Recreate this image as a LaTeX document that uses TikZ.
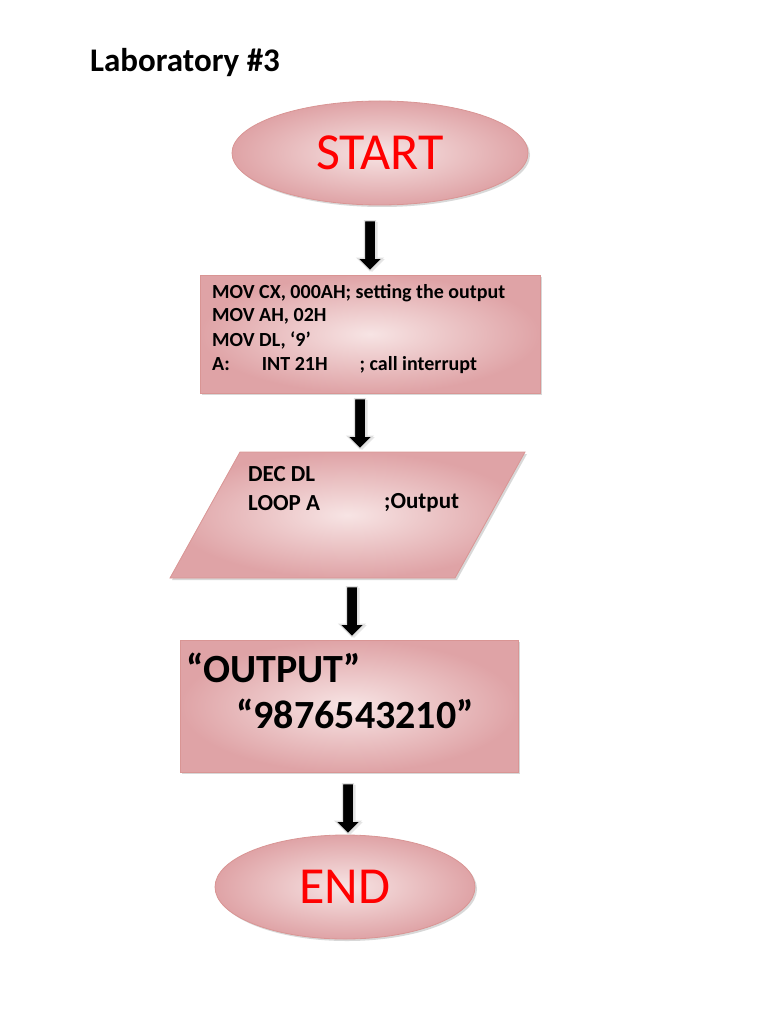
\documentclass[tikz,border=0pt]{standalone}
\usepackage{fontspec}
\setmainfont{Carlito}
\usetikzlibrary{shapes.geometric,shapes.arrows,shadows}
\definecolor{rosebd}{HTML}{D99594}
\definecolor{rosein}{HTML}{F7E4E4}
\definecolor{roseout}{HTML}{DFA3A6}
\definecolor{startred}{HTML}{FF0000}
\tikzset{
  pinkfill/.style={draw=rosebd, line width=0.8pt, inner color=rosein, outer color=roseout,
    drop shadow={shadow xshift=2pt, shadow yshift=-2pt, fill=gray!60}},
  term/.style={pinkfill, ellipse, text=startred, font=\fontsize{52}{52}\selectfont},
  blockarrow/.style={single arrow, fill=black, draw=gray!25, line width=1.2pt, rotate=-90,
    single arrow head extend=7pt, single arrow tip angle=90, minimum width=16pt, inner sep=5pt,
    drop shadow={shadow xshift=2pt, shadow yshift=-1pt, fill=gray!40}},
  code/.style={anchor=west, inner sep=0pt, font=\bfseries\fontsize{20}{20}\selectfont},
  bigcode/.style={code, font=\bfseries\fontsize{23}{23}\selectfont}
}
\begin{document}
\begin{tikzpicture}[x=1pt,y=-1pt]
\useasboundingbox (0,0) rectangle (768,1024);
\node[anchor=west, inner sep=0pt, font=\bfseries\fontsize{33}{33}\selectfont] (title) at (90,63) {Laboratory \#3};
\node[term, minimum width=296pt, minimum height=104pt] (start) at (380,153) {START};
\node[pinkfill, rectangle, minimum width=340pt, minimum height=118pt] (init) at (370,334) {};
\node[code] (l1) at (212,293) {MOV CX, 000AH; setting the output};
\node[code] (l2) at (212,316) {MOV AH, 02H};
\node[code] (l3) at (212,340) {MOV DL, ‘9’};
\node[code] (l4) at (212,365) {A:\hspace{1.6em}INT 21H\hspace{1.6em}; call interrupt};
\path[pinkfill] (240,452) -- (525,452) -- (455,578) -- (170,578) -- cycle;
\node[bigcode] (d1) at (248,474) {DEC DL};
\node[bigcode] (d2) at (248,503) {LOOP A};
\node[bigcode] (d3) at (384,503) {;Output};
\node[pinkfill, rectangle, minimum width=338pt, minimum height=132pt] (out) at (349,706) {};
\node[code, font=\bfseries\fontsize{40}{40}\selectfont] (o1) at (186,668) {“OUTPUT”};
\node[code, font=\bfseries\fontsize{40}{40}\selectfont] (o2) at (236,714) {“9876543210”};
\node[term, minimum width=260pt, minimum height=104pt] (end) at (345,887) {END};
\node[blockarrow, minimum height=50pt] (a1) at (370,243) {};
\node[blockarrow, minimum height=50pt] (a2) at (360,421) {};
\node[blockarrow, minimum height=50pt] (a3) at (352,609) {};
\node[blockarrow, minimum height=50pt] (a4) at (348,806) {};
\end{tikzpicture}
\end{document}
